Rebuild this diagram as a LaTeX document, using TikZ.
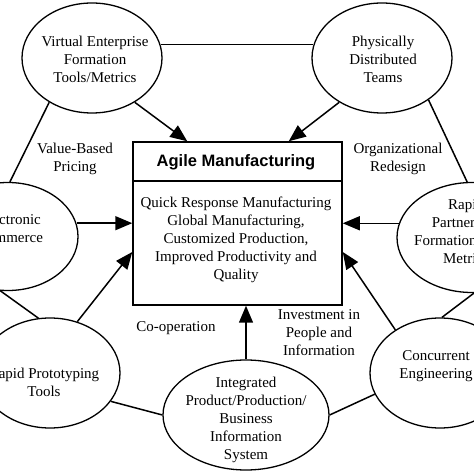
\documentclass[tikz,border=0pt]{standalone}
\usepackage{fontspec}
\setmainfont{Liberation Serif}
\newfontfamily\titlefont{Liberation Sans}
\usetikzlibrary{shapes.geometric,arrows.meta,calc}
\begin{document}
\begin{tikzpicture}[x=1pt,y=1pt,
  ell/.style={draw,ellipse,line width=1.3pt,inner sep=0pt,minimum width=140pt,minimum height=110pt},
  txt/.style={align=center,inner sep=0pt,font=\fontsize{15}{18}\selectfont},
  conn/.style={line width=1.5pt},
  arr/.style={line width=1.5pt,-{Triangle[length=17pt,width=14pt]}}]
\path[use as bounding box,clip] (0,0) rectangle (474,474);
% ellipses
\node[ell] (ve) at (92,416) {};
\node[ell] (pdt) at (382,416) {};
\node[ell,minimum height=108pt] (ec) at (8,237.5) {};
\node[ell,minimum width=150pt] (rp) at (472,236.5) {};
\node[ell] (rpt) at (50,101) {};
\node[ell] (ce) at (440,101) {};
\node[ell,minimum width=166pt] (int) at (246,59) {};
% ellipse texts
\node[txt] (vet) at (95,415) {Virtual Enterprise\\Formation\\Tools/Metrics};
\node[txt] (pdtt) at (383,415) {Physically\\Distributed\\Teams};
\node[txt] (ect) at (10,245.5) {Electronic\\Commerce};
\node[txt] (rpt2) at (466,243) {Rapid\\Partnership\\Formation Tools/\\Metrics};
\node[txt] (rptt) at (44,92) {Rapid Prototyping\\Tools};
\node[txt] (cet) at (436,108) {Concurrent\\Engineering};
\node[txt] (intt) at (246,54) {Integrated\\Product/Production/\\Business\\Information\\System};
% central box
\node[draw,line width=1.5pt,minimum width=209pt,minimum height=163pt,inner sep=0pt] (box) at (237.5,250.5) {};
\draw[line width=1.5pt] ([yshift=-40pt]box.north west) coordinate (dl) -- ([yshift=-40pt]box.north east) coordinate (dr);
\node[inner sep=0pt,font=\titlefont\bfseries\fontsize{16.5}{19}\selectfont] (title) at (236,312) {Agile Manufacturing};
\node[txt] (body) at (236,234.5) {Quick Response Manufacturing\\Global Manufacturing,\\Customized Production,\\Improved Productivity and\\Quality};
% labels
\node[txt] (l1) at (75,315) {Value-Based\\Pricing};
\node[txt] (l2) at (398,315) {Organizational\\Redesign};
\node[txt] (l3) at (176,146) {Co-operation};
\node[txt] (l4) at (319,141) {Investment in\\People and\\Information};
% connectors
\draw[conn] (ve.11) -- (pdt.169);
\draw[conn] (ve.-134) -- (ec.88);
\draw[conn] (pdt.-42) -- (rp.95);
\draw[conn] (ec.-98) -- (rpt.102);
\draw[conn] (rp.-88) -- (ce.88);
\draw[conn] (rpt.-25) -- (int.west);
\draw[conn] (int.east) -- (ce.198);
\draw[arr] (ve.-46) -- ([xshift=55pt]box.north west);
\draw[arr] (pdt.-134) -- ([xshift=-54pt]box.north east);
\draw[arr] (ec.11) -- (ec.11 -| box.west);
\draw[arr] (rp.169) -- (rp.169 -| box.east);
\draw[arr] (rpt.62) -- ([yshift=-28.5pt]box.west);
\draw[arr] (ce.136) -- ([yshift=-28.5pt]box.east);
\draw[arr] (int.north) -- (int.north |- box.south);
\end{tikzpicture}
\end{document}
